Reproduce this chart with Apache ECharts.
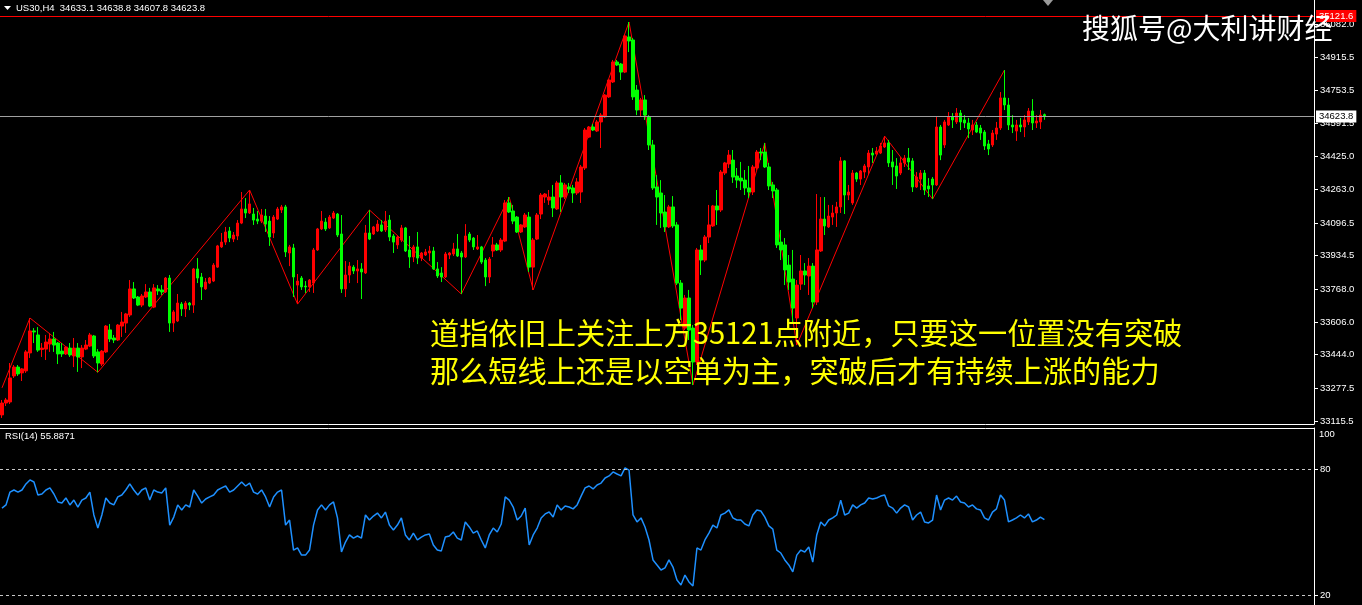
<!DOCTYPE html>
<html><head><meta charset="utf-8">
<script src="https://cdn.jsdelivr.net/npm/echarts@6/dist/echarts.min.js"></script>
<style>html,body{margin:0;padding:0;background:#000;overflow:hidden}#c{width:1362px;height:605px}</style>
</head><body><div id="c"></div>
<script>
const symbolName = 'US30,H4';
const opens = [
33146,33205,33210,33339,33383,33354,33364,33453,33562,33542,
33470,33472,33497,33522,33502,33462,33448,33477,33438,33477,
33433,33472,33487,33537,33458,33398,33458,33567,33527,33517,
33586,33601,33641,33770,33730,33690,33730,33755,33680,33770,
33765,33755,33824,33601,33611,33695,33671,33700,33690,33869,
33829,33770,33799,33809,33878,33978,34002,34057,34017,34032,
34096,34166,34146,34141,34116,34106,34131,34106,34047,34116,
34161,34176,33948,33973,33789,33824,33784,33780,33799,33963,
34067,34101,34072,34121,34141,34042,33770,33839,33878,33859,
33869,33849,34047,34042,34057,34087,34062,34111,34032,33988,
34012,34072,33963,33928,33978,33923,33938,33948,33958,33869,
33849,33829,33938,33943,33968,33948,33928,34042,34022,33968,
33978,33913,33829,33958,33988,33963,34007,34196,34156,34126,
34052,34077,34126,33878,34017,34141,34225,34210,34225,34166,
34295,34225,34275,34270,34245,34250,34369,34522,34572,34552,
34597,34622,34721,34795,34894,34884,34844,35018,35003,34755,
34656,34706,34622,34483,34275,34245,34151,34077,34176,34087,
33799,33576,33725,33576,33408,33963,33913,34027,34082,34181,
34161,34344,34389,34408,34329,34319,34309,34270,34250,34369,
34448,34448,34374,34285,34260,34002,33988,33888,33819,33626,
33794,33859,33834,33883,33705,33958,34116,34077,34126,34146,
34176,34404,34235,34196,34344,34314,34349,34374,34443,34438,
34443,34473,34493,34399,34379,34344,34394,34418,34404,34275,
34314,34344,34280,34314,34285,34572,34483,34582,34622,34597,
34641,34607,34592,34557,34582,34567,34547,34488,34483,34537,
34567,34716,34681,34582,34552,34582,34572,34597,34651,34592,
34597,34633.1];
const closes = [
33205,33220,33329,33383,33349,33374,33458,33562,33557,33467,
33477,33507,33522,33492,33448,33448,33482,33443,33477,33433,
33477,33492,33542,33438,33403,33462,33586,33522,33517,33591,
33606,33646,33770,33725,33690,33735,33755,33685,33775,33760,
33755,33824,33601,33656,33700,33671,33700,33690,33869,33824,
33780,33804,33824,33888,33983,34002,34052,34022,34037,34096,
34166,34146,34191,34111,34106,34136,34091,34027,34126,34166,
34176,33953,33978,33829,33809,33780,33780,33814,33963,34067,
34106,34067,34126,34146,34037,33770,33839,33883,33859,33869,
33854,34047,34017,34077,34091,34057,34106,34027,34002,34027,
34072,33958,33928,33978,33923,33948,33953,33958,33869,33834,
33829,33943,33948,33968,33933,33928,34032,34012,33978,33978,
33903,33829,33918,33988,33963,34012,34196,34151,34106,34052,
34087,34136,33878,34012,34136,34235,34240,34225,34171,34295,
34225,34285,34265,34245,34300,34374,34557,34572,34557,34597,
34631,34730,34805,34894,34879,34844,35023,34998,34721,34656,
34706,34631,34483,34270,34225,34146,34077,34176,34082,33799,
33675,33725,33566,33408,33963,33913,34027,34087,34181,34161,
34349,34394,34433,34324,34309,34305,34270,34250,34374,34448,
34443,34374,34280,34255,33988,33963,33864,33804,33675,33789,
33859,33839,33883,33705,33963,34116,34082,34131,34146,34176,
34404,34235,34250,34344,34314,34354,34379,34443,34433,34453,
34478,34493,34394,34374,34329,34394,34418,34399,34275,34324,
34344,34260,34265,34285,34572,34433,34597,34622,34607,34641,
34597,34592,34562,34582,34547,34542,34478,34463,34542,34567,
34716,34681,34582,34572,34582,34572,34607,34651,34592,34602,
34631,34623.8];
const lows = [
33131,33190,33200,33329,33339,33314,33354,33428,33502,33458,
33433,33418,33458,33458,33398,33433,33443,33433,33383,33359,
33378,33467,33482,33428,33357,33388,33453,33507,33502,33512,
33532,33552,33631,33720,33685,33680,33725,33680,33675,33740,
33740,33750,33557,33557,33606,33636,33631,33665,33651,33799,
33715,33765,33794,33804,33874,33973,33988,34002,34002,34012,
34091,34121,34141,34087,34091,34096,34052,33983,34022,34111,
34146,33928,33883,33730,33695,33765,33750,33755,33750,33958,
34062,34057,34067,34116,34027,33750,33730,33799,33844,33799,
33720,33844,34012,34037,34052,34052,34052,34007,33948,33968,
34002,33953,33874,33903,33893,33908,33933,33908,33864,33824,
33804,33824,33918,33933,33928,33745,33923,34002,33963,33963,
33893,33784,33799,33928,33958,33953,34002,34146,34091,34047,
34047,34072,33854,33765,34012,34116,34196,34186,34126,34161,
34151,34215,34245,34196,34235,34196,34359,34517,34552,34547,
34468,34617,34716,34790,34874,34805,34839,34943,34706,34631,
34626,34607,34458,34260,34087,34072,34052,34072,34072,33789,
33616,33566,33517,33294,33393,33839,33903,33997,34077,34087,
34151,34334,34369,34295,34270,34260,34235,34220,34235,34359,
34408,34369,34260,34220,33973,33913,33789,33765,33606,33492,
33765,33789,33740,33675,33690,33953,34037,34072,34087,34077,
34146,34141,34210,34186,34300,34285,34319,34334,34394,34433,
34438,34468,34374,34285,34265,34334,34374,34359,34250,34270,
34260,34235,34225,34215,34280,34408,34468,34577,34567,34587,
34557,34567,34517,34532,34542,34508,34458,34433,34473,34508,
34557,34656,34557,34542,34503,34547,34522,34582,34557,34567,
34562,34607.8];
const highs = [
33220,33230,33403,33393,33393,33378,33467,33626,33576,33581,
33502,33542,33552,33557,33507,33502,33487,33502,33527,33502,
33492,33517,33552,33542,33472,33467,33591,33596,33542,33596,
33656,33651,33814,33804,33735,33745,33794,33775,33794,33789,
33789,33829,33839,33665,33745,33705,33710,33705,33874,33923,
33849,33824,33829,33898,33988,34047,34077,34077,34052,34111,
34250,34220,34260,34171,34156,34166,34166,34131,34136,34176,
34186,34186,33988,33993,33844,33834,33809,33819,33973,34072,
34156,34121,34136,34156,34146,34136,33908,33903,33888,33913,
33898,34087,34161,34082,34111,34111,34156,34136,34042,34032,
34087,34077,34032,33988,34052,33953,33968,33983,33978,33903,
33878,33953,33953,33998,34042,33958,34091,34052,34027,34037,
33983,33923,33928,34027,33998,34022,34210,34225,34186,34131,
34091,34146,34151,34022,34146,34245,34245,34260,34285,34305,
34334,34295,34295,34285,34319,34384,34567,34577,34587,34607,
34641,34735,34810,34904,34904,34889,35028,35092,35013,34780,
34716,34730,34631,34508,34334,34309,34235,34186,34230,34101,
33814,33740,33765,33591,33973,33988,34037,34186,34186,34260,
34359,34399,34458,34458,34369,34399,34359,34379,34384,34458,
34468,34493,34394,34300,34270,34062,34022,33938,33963,33814,
33938,33898,33923,33898,34240,34225,34225,34186,34186,34201,
34423,34408,34285,34359,34349,34359,34389,34458,34468,34473,
34493,34527,34508,34458,34418,34423,34433,34468,34418,34349,
34359,34359,34319,34324,34622,34582,34607,34646,34641,34666,
34656,34631,34617,34607,34597,34582,34557,34508,34557,34597,
34745,34854,34716,34631,34607,34617,34631,34666,34710,34631,
34656,34638.8];
const rsiValues = [
61.4,62.9,69.0,70.0,69.0,70.0,72.9,74.8,73.8,67.6,
68.1,70.0,71.0,68.1,64.3,63.8,66.2,62.9,65.2,61.9,
65.2,66.2,69.0,58.1,51.9,58.1,66.2,63.8,62.9,66.7,
67.6,70.0,72.9,70.0,67.6,70.0,71.0,65.2,70.0,69.0,
68.6,71.0,53.3,57.1,62.9,60.5,62.9,61.9,70.0,67.1,
63.8,65.7,66.7,67.6,70.0,71.0,71.9,69.0,70.0,71.9,
73.8,71.9,73.3,69.0,68.1,70.0,66.7,61.9,66.7,69.0,
70.0,53.3,55.7,41.4,42.4,39.0,39.0,41.4,53.3,60.5,
62.9,60.5,62.9,64.3,56.7,40.5,45.2,48.6,47.1,48.1,
47.1,58.1,55.7,57.6,59.0,56.7,59.5,53.3,51.0,53.3,
56.7,48.6,46.2,49.5,46.2,47.6,48.6,49.0,43.8,41.4,
41.0,47.6,48.1,50.0,47.1,46.2,54.8,52.4,49.5,50.5,
46.2,42.4,48.6,51.9,50.0,53.8,66.7,65.2,61.9,55.7,
57.6,61.4,43.8,48.6,51.9,56.7,58.6,59.5,57.1,62.9,
60.5,62.4,61.9,61.0,62.9,67.1,71.0,71.9,70.5,72.4,
73.3,75.7,76.7,78.6,77.6,76.7,80.5,79.5,58.1,54.8,
56.7,52.4,46.2,36.7,34.3,31.9,32.9,36.7,33.3,27.1,
24.8,29.5,26.2,24.3,42.4,41.4,46.2,49.5,53.3,51.9,
58.1,59.0,60.5,56.7,55.7,55.7,53.8,52.9,58.1,60.5,
60.0,57.1,52.9,51.4,41.4,40.0,36.7,34.3,31.0,39.0,
41.4,40.5,42.9,35.7,48.6,54.8,52.9,55.7,56.7,58.1,
65.2,58.1,59.0,62.9,61.4,62.9,63.8,66.2,65.7,66.2,
67.1,67.6,62.4,61.4,59.0,61.4,62.9,61.9,55.7,58.1,
59.5,54.8,54.3,55.7,67.6,60.5,65.2,66.2,65.2,67.1,
64.3,63.8,61.9,62.9,61.0,60.5,56.7,55.7,59.5,61.0,
67.6,65.2,54.8,55.7,56.7,58.1,56.7,58.6,54.8,55.7,
57.1,55.8871];
const zigzagIdx = [0, 7, 24, 62, 74, 92, 115, 127, 133, 157, 173, 191, 199, 221, 233, 251];
const zigzagVal = [33280, 33626, 33357, 34260, 33695, 34161, 33745, 34225, 33765, 35092, 33294, 34493, 33492, 34527, 34215, 34854];
const priceTicks = [35082.0, 34915.5, 34753.5, 34591.5, 34425.0, 34263.0, 34096.5, 33934.5, 33768.0, 33606.0, 33444.0, 33277.5, 33115.5];
const rsiTicks = [100, 80, 20];
const rsiLevels = [80, 20];
const resistanceLevel = 35121.6;
const lastPrice = 34623.8;
const rsiPeriod = 14;
const annotationLines = ['道指依旧上关注上方35121点附近，只要这一位置没有突破', '那么短线上还是以空单为主，突破后才有持续上涨的能力'];
const watermarkText = '搜狐号@大利讲财经';
const totalSlots = 329;

const FONT = 'Liberation Sans';
const chart = echarts.init(document.getElementById('c'), null, {renderer: 'canvas'});
const cats = Array.from({length: totalSlots}, (_, i) => String(i));
const candleData = opens.map((o, i) => [o, closes[i], lows[i], highs[i]]);
const zigzagData = zigzagIdx.map((idx, k) => [idx, zigzagVal[k]]);
const n = opens.length - 1;
const titleText = symbolName + '  ' + [opens[n], highs[n], lows[n], closes[n]].map(v => v.toFixed(1)).join(' ');
const rsiText = 'RSI(' + rsiPeriod + ') ' + rsiValues[n].toFixed(4);

const hiddenCat = (gi, pos) => ({
  type: 'category', gridIndex: gi, data: cats, boundaryGap: true, position: pos,
  axisLine: {show: true, onZero: false, lineStyle: {color: '#ffffff', width: 1}},
  axisTick: {show: false}, axisLabel: {show: false}, splitLine: {show: false}
});

const option = {
  backgroundColor: '#000000',
  animation: false,
  grid: [
    {left: 0, right: 48, top: 0, height: 424},
    {left: 0, right: 48, top: 428, height: 177}
  ],
  xAxis: [hiddenCat(0, 'bottom'), hiddenCat(1, 'top')],
  yAxis: [
    {
      type: 'value', gridIndex: 0, position: 'right', min: 33101, max: 35201,
      splitLine: {show: false},
      axisLine: {show: true, lineStyle: {color: '#ffffff'}},
      axisTick: {show: true, length: 4, lineStyle: {color: '#ffffff'}, customValues: priceTicks},
      axisLabel: {show: true, customValues: priceTicks, formatter: v => Number(v).toFixed(1),
        color: '#ffffff', fontSize: 9.5, fontFamily: FONT, margin: 6}
    },
    {
      type: 'value', gridIndex: 1, position: 'right', min: 15.24, max: 99.52,
      splitLine: {show: false},
      axisLine: {show: true, lineStyle: {color: '#ffffff'}},
      axisTick: {show: true, length: 4, lineStyle: {color: '#ffffff'}, customValues: rsiLevels},
      axisLabel: {show: true, customValues: rsiLevels, formatter: v => String(Math.round(v)),
        color: '#ffffff', fontSize: 9.5, fontFamily: FONT, margin: 6}
    }
  ],
  series: [
    {
      type: 'candlestick', xAxisIndex: 0, yAxisIndex: 0, data: candleData,
      barWidth: 3,
      itemStyle: {color: '#ff0000', color0: '#00ff00', borderColor: '#ff0000', borderColor0: '#00ff00', borderWidth: 1},
      markLine: {
        silent: true, symbol: ['none', 'none'], animation: false,
        data: [
          {yAxis: resistanceLevel, lineStyle: {color: '#ff0000', width: 1, type: 'solid'},
           label: {show: true, position: 'end', distance: 2, formatter: p => Number(p.value).toFixed(1),
             color: '#ffffff', backgroundColor: '#ff0000', padding: [1, 3, 1, 3], fontSize: 9.5, fontFamily: FONT}},
          {yAxis: lastPrice, lineStyle: {color: '#a0a0a0', width: 1, type: 'solid'},
           label: {show: true, position: 'end', distance: 2, formatter: p => Number(p.value).toFixed(1),
             color: '#000000', backgroundColor: '#ffffff', padding: [1, 3, 1, 3], fontSize: 9.5, fontFamily: FONT}}
        ]
      },
      z: 3
    },
    {
      type: 'line', xAxisIndex: 0, yAxisIndex: 0, data: zigzagData,
      symbol: 'none', lineStyle: {color: '#ff0000', width: 1}, z: 2, silent: true
    },
    {
      type: 'line', xAxisIndex: 1, yAxisIndex: 1, data: rsiValues,
      symbol: 'none', lineStyle: {color: '#1e90ff', width: 1.5}, silent: true,
      markLine: {
        silent: true, symbol: ['none', 'none'], label: {show: false},
        lineStyle: {color: '#c8c8c8', width: 1, type: [3, 3]},
        data: rsiLevels.map(v => ({yAxis: v}))
      }
    }
  ],
  graphic: [
    {type: 'polygon', shape: {points: [[4, 6], [11, 6], [7.5, 10]]}, style: {fill: '#ffffff'}, z: 100},
    {type: 'text', x: 16, y: 8, z: 100, style: {text: titleText, fill: '#ffffff', font: '9.5px "' + FONT + '"', align: 'left', verticalAlign: 'middle', textAlign: 'left', textVerticalAlign: 'middle'}},
    {type: 'polygon', shape: {points: [[1043, 0], [1053, 0], [1048, 6]]}, style: {fill: '#9a9a9a'}, z: 100},
    {type: 'text', x: 5, y: 436, z: 100, style: {text: rsiText, fill: '#ffffff', font: '9.5px "' + FONT + '"', align: 'left', verticalAlign: 'middle', textAlign: 'left', textVerticalAlign: 'middle'}},
    {type: 'text', x: 1319, y: 434, z: 100, style: {text: String(rsiTicks[0]), fill: '#ffffff', font: '9.5px "' + FONT + '"', align: 'left', verticalAlign: 'middle', textAlign: 'left', textVerticalAlign: 'middle'}},
    {type: 'text', x: 1082, y: 28, z: 120, style: {text: watermarkText, fill: '#ffffff', font: '28px "Noto Sans CJK SC"', align: 'left', verticalAlign: 'middle', textAlign: 'left', textVerticalAlign: 'middle'}},
    {type: 'text', x: 430, y: 333, z: 110, style: {text: annotationLines[0], fill: '#ffff00', font: '29.2px "Noto Sans CJK SC"', align: 'left', verticalAlign: 'middle', textAlign: 'left', textVerticalAlign: 'middle'}},
    {type: 'text', x: 430, y: 371, z: 110, style: {text: annotationLines[1], fill: '#ffff00', font: '29.2px "Noto Sans CJK SC"', align: 'left', verticalAlign: 'middle', textAlign: 'left', textVerticalAlign: 'middle'}}
  ]
};
chart.setOption(option);
</script>
</body></html>
